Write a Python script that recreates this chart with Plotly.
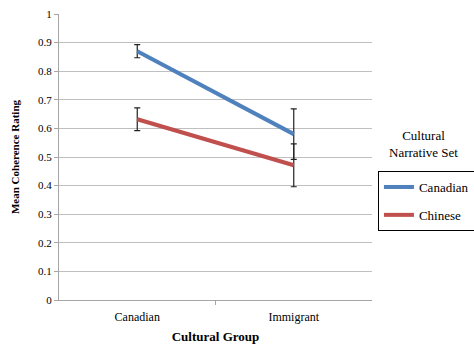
import plotly.graph_objects as go

categories = ["Canadian", "Immigrant"]
series_names = ["Canadian", "Chinese"]
canadian_vals = [0.87, 0.58]
canadian_err = [0.023, 0.088]
chinese_vals = [0.632, 0.471]
chinese_err = [0.04, 0.075]
y_ticks = [0, 0.1, 0.2, 0.3, 0.4, 0.5, 0.6, 0.7, 0.8, 0.9, 1]
y_ticktext = ["0", "0.1", "0.2", "0.3", "0.4", "0.5", "0.6", "0.7", "0.8", "0.9", "1"]

colors = ["#4f81bd", "#c0504d"]
xpos = list(range(len(categories)))
font = "Times New Roman"

fig = go.Figure()
for name, vals, errs, col in [(series_names[0], canadian_vals, canadian_err, colors[0]),
                              (series_names[1], chinese_vals, chinese_err, colors[1])]:
    fig.add_trace(go.Scatter(
        x=xpos, y=vals, name=name, mode="lines", legendgroup=name,
        line=dict(color=col, width=4),
        error_y=dict(type="data", array=errs, visible=True, color="#222222",
                     thickness=1.2, width=3),
    ))

fig.update_layout(
    width=474, height=353,
    margin=dict(l=59, r=102, t=14, b=53, autoexpand=False),
    paper_bgcolor="white", plot_bgcolor="white",
    font=dict(family=font, size=12, color="#000000"),
    showlegend=True,
    legend=dict(x=1.019, y=0.451, xanchor="left", yanchor="top",
                bordercolor="#000000", borderwidth=1, bgcolor="white",
                font=dict(family=font, size=13), tracegroupgap=8,
                itemwidth=30, entrywidth=58),
    xaxis=dict(range=[-0.5, 1.5], tickvals=xpos, ticktext=categories, ticks="",
               showgrid=False, zeroline=False, showline=True, linecolor="#a6a6a6",
               linewidth=1, tickfont=dict(family=font, size=12), ticklabelstandoff=6,
               minor=dict(tickvals=[0.5], ticks="outside", ticklen=4, tickcolor="#a6a6a6", showgrid=False),
               title=dict(text="<b>Cultural Group</b>", font=dict(family=font, size=13), standoff=8)),
    yaxis=dict(range=[0, 1], tickvals=y_ticks, ticktext=y_ticktext, ticks="outside",
               ticklen=4, tickcolor="#a6a6a6", showgrid=True, gridcolor="#bfbfbf",
               gridwidth=1, zeroline=False, showline=True, linecolor="#a6a6a6",
               tickfont=dict(family=font, size=11),
               title=dict(text="<b>Mean Coherence Rating</b>", font=dict(family=font, size=11), standoff=16)),
)
fig.add_annotation(text="Cultural<br>Narrative Set", xref="paper", yref="paper",
                   x=1.165, y=0.483, xanchor="center", yanchor="bottom", showarrow=False,
                   font=dict(family=font, size=13))
fig.write_html("out.html")
